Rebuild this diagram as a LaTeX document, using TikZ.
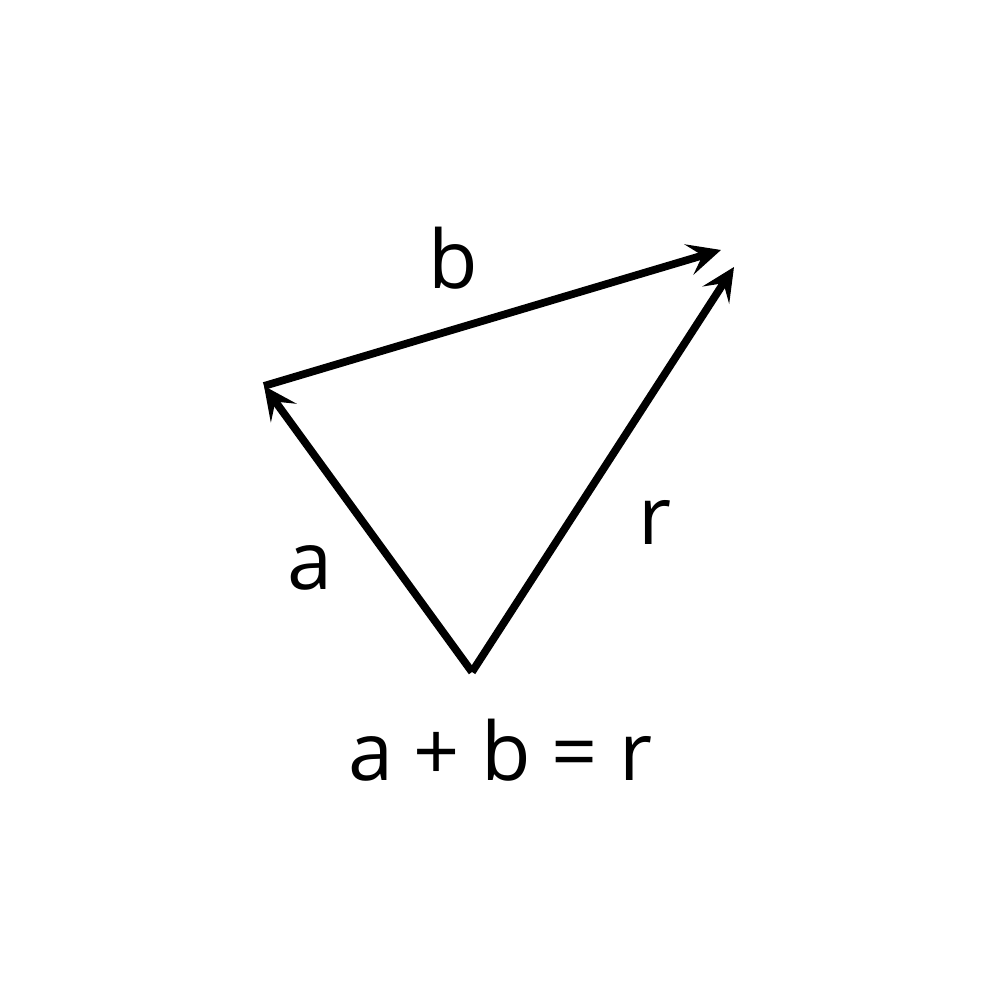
\documentclass[tikz,border=0pt]{standalone}
\usepackage{fontspec}
\setmainfont{Open Sans}
\usetikzlibrary{arrows.meta}

\begin{document}
\begin{tikzpicture}[
    vec/.style={line width=2.2pt, -{Stealth[length=9.5pt, width=9pt, inset=4pt]}},
    lbl/.style={font=\fontsize{23}{27}\selectfont}
]
    \useasboundingbox (0,0) rectangle (10,10);

    % 1. Define Coordinates
    \coordinate (O) at (4.72, 3.28);  % Tail of a and r
    \coordinate (A) at (2.64, 6.14);  % Head of a, tail of b
    \coordinate (Bb) at (7.21, 7.50); % Head of b
    \coordinate (Br) at (7.34, 7.33); % Head of r

    % 2. Draw the Vectors
    \begin{scope}[black]
        \draw[vec] (O) -- (A);
        \draw[vec] (A) -- (Bb);
        \draw[vec] (O) -- (Br);
    \end{scope}

    % 3. Labels
    \node[lbl] (la) at (3.10, 4.32) {a};
    \node[lbl] (lb) at (4.53, 7.42) {b};
    \node[lbl] (lr) at (6.55, 4.78) {r};
    \node[lbl] (sum) at (5.00, 2.50) {a + b = r};
\end{tikzpicture}
\end{document}
